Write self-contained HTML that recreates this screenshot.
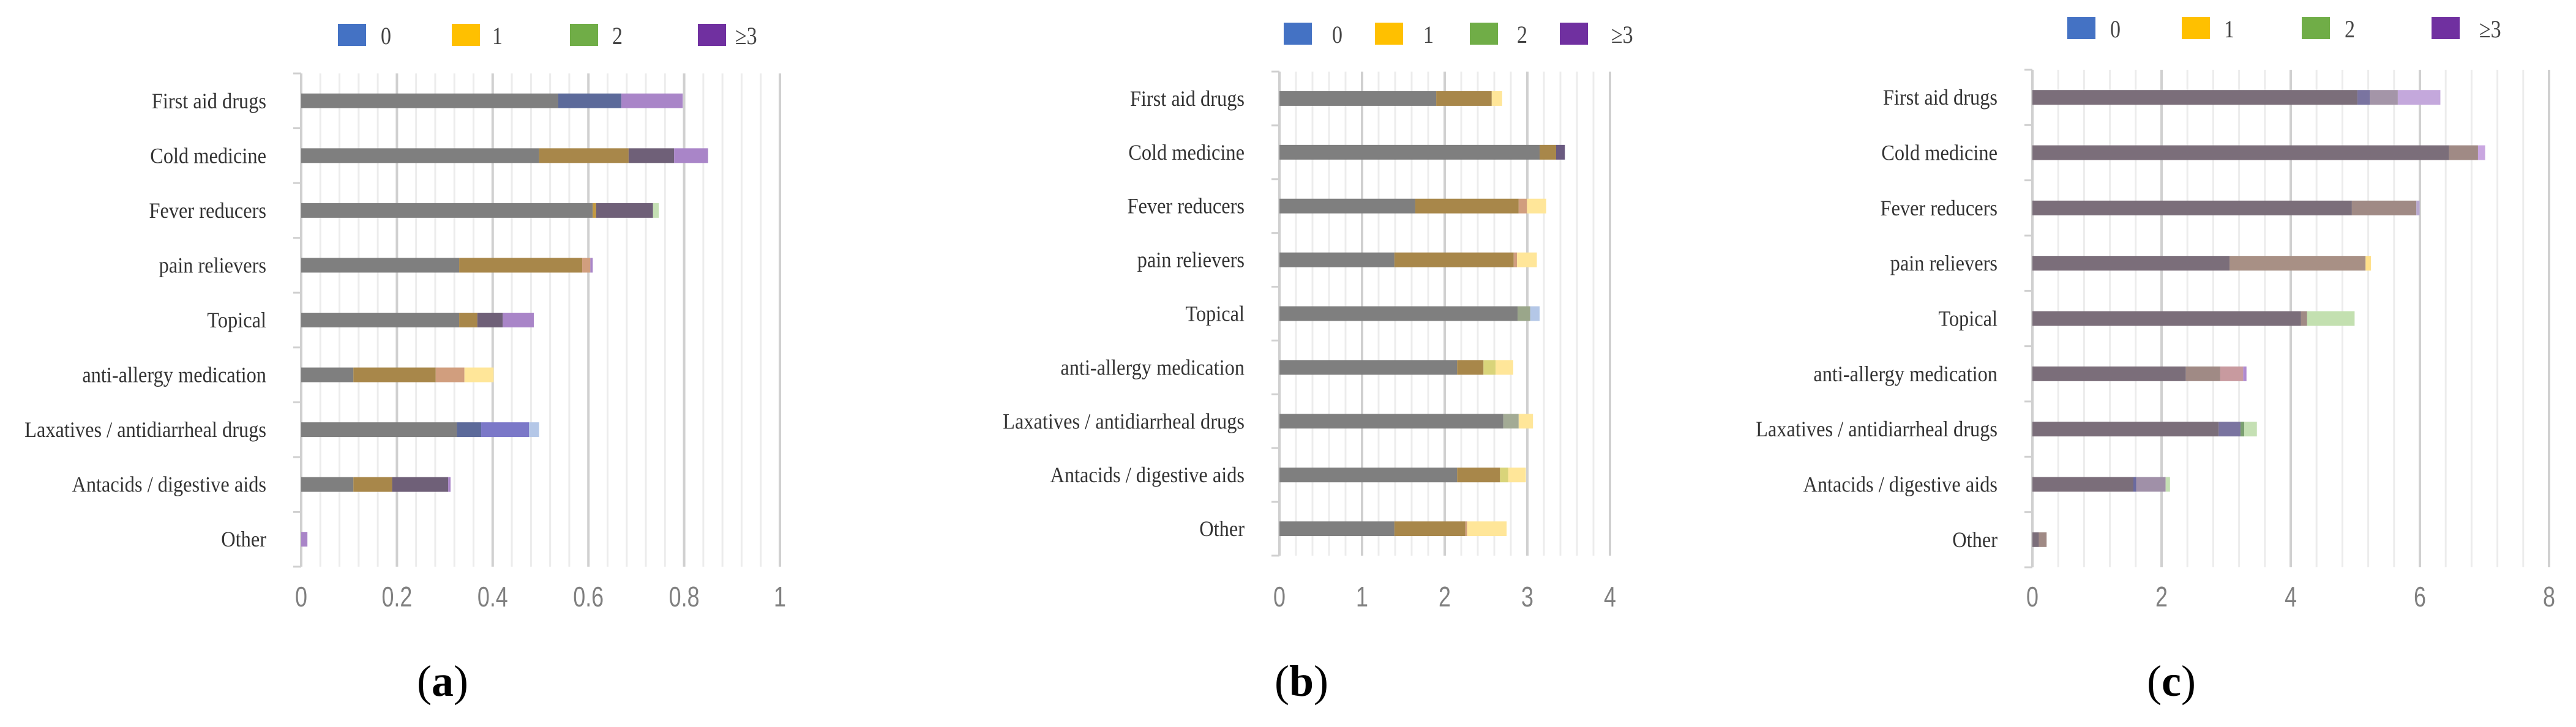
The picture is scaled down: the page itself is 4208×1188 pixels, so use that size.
<!DOCTYPE html>
<html><head><meta charset="utf-8"><style>
html,body{margin:0;padding:0;background:#fff;}
svg{display:block;}
</style></head><body>
<svg id="fig" xmlns="http://www.w3.org/2000/svg" width="4208" height="1188" viewBox="0 0 4208 1188"></svg>
<script>
const categories = ["First aid drugs","Cold medicine","Fever reducers","pain relievers","Topical","anti-allergy medication","Laxatives / antidiarrheal drugs","Antacids / digestive aids","Other"];
const legendLabels = ["0","1","2","≥3"];
const legendColors = ["#4472c4","#ffc000","#70ad47","#7030a0"];

// Panel (a) segment lengths per category
const valuesA = [
  [0.537,0.132,0.128],
  [0.497,0.187,0.095,0.071],
  [0.609,0.007,0.119,0.012],
  [0.330,0.257,0.017,0.005],
  [0.330,0.038,0.053,0.065],
  [0.109,0.172,0.060,0.061],
  [0.325,0.051,0.100,0.021],
  [0.109,0.081,0.117,0.005],
  [0.013]
];
const colorsA = [
  ["#7f7f7f","#5c6a9a","#a985c8"],
  ["#7f7f7f","#a8874a","#6f6078","#a985c8"],
  ["#7f7f7f","#c49a40","#6f6078","#c5e0b4"],
  ["#7f7f7f","#a8874a","#d19e7e","#a985c8"],
  ["#7f7f7f","#a8874a","#6f6078","#a985c8"],
  ["#7f7f7f","#a8874a","#d19e7e","#ffe699"],
  ["#7f7f7f","#5c6a9a","#7b78c8","#b4c7e7"],
  ["#7f7f7f","#a8874a","#6f6078","#a985c8"],
  ["#a985c8"]
];
const ticksA = ["0","0.2","0.4","0.6","0.8","1"];

// Panel (b)
const valuesB = [
  [1.897,0.672,0.126],
  [3.148,0.200,0.106],
  [1.644,1.251,0.100,0.233],
  [1.391,1.444,0.040,0.240],
  [2.882,0.153,0.113],
  [2.150,0.319,0.147,0.213],
  [2.709,0.186,0.173],
  [2.150,0.519,0.100,0.213],
  [1.391,0.859,0.020,0.479]
];
const colorsB = [
  ["#7f7f7f","#a8874a","#ffe699"],
  ["#7f7f7f","#a8874a","#6a5a80"],
  ["#7f7f7f","#a8874a","#d19e7e","#ffe699"],
  ["#7f7f7f","#a8874a","#d19e7e","#ffe699"],
  ["#7f7f7f","#9aa68a","#b4c7e7"],
  ["#7f7f7f","#a8874a","#d9d47a","#ffe699"],
  ["#7f7f7f","#a3ab95","#ffe699"],
  ["#7f7f7f","#a8874a","#d9d47a","#ffe699"],
  ["#7f7f7f","#a8874a","#d19e7e","#ffe699"]
];
const ticksB = ["0","1","2","3","4"];

// Panel (c)
const valuesC = [
  [5.032,0.194,0.432,0.659],
  [6.452,0.448,0.110],
  [4.947,0.998,0.051],
  [3.053,2.106,0.084],
  [4.160,0.094,0.735],
  [2.376,0.533,0.355,0.051],
  [2.884,0.338,0.059,0.195],
  [1.564,0.043,0.456,0.068],
  [0.100,0.120]
];
const colorsC = [
  ["#7b6e7a","#7a74a0","#a495a8","#c4a8dc"],
  ["#7b6e7a","#a08a85","#c9a6e0"],
  ["#7b6e7a","#a08a85","#b8a8d0"],
  ["#7b6e7a","#a89085","#ffe08a"],
  ["#7b6e7a","#a08a85","#c3e0b0"],
  ["#7b6e7a","#a08a85","#c89a9f","#b08ad0"],
  ["#7b6e7a","#7a74a0","#7aa070","#c5e0b4"],
  ["#7b6e7a","#6a6aa0","#a090a8","#c5e0b4"],
  ["#7b6e7a","#a08a85"]
];
const ticksC = ["0","2","4","6","8"];

const NS="http://www.w3.org/2000/svg";
const svg=document.getElementById('fig');
function mk(tag,attrs,parent){const e=document.createElementNS(NS,tag);for(const k in attrs)e.setAttribute(k,attrs[k]);(parent||svg).appendChild(e);return e;}

const panels=[
  {id:'a',values:valuesA,colors:colorsA,ticks:ticksA,max:1,x0:492,x1:1274,top:120,bottom:926,
   sw:[552,738,931,1140],lab:[622,804,1000,1201],legY:39,cap:723},
  {id:'b',values:valuesB,colors:colorsB,ticks:ticksB,max:4,x0:2090,x1:2630,top:117,bottom:908,
   sw:[2097,2246,2401,2548],lab:[2176,2325,2478,2632],legY:37,cap:2126},
  {id:'c',values:valuesC,colors:colorsC,ticks:ticksC,max:8,x0:3320,x1:4164,top:114,bottom:927,
   sw:[3377,3564,3760,3972],lab:[3447,3633,3830,4050],legY:28,cap:3547}
];

panels.forEach(p=>{
  const g=mk('g',{});
  
  
  const xs=v=>p.x0+(p.x1-p.x0)*v/p.max;
  const band=(p.bottom-p.top)/categories.length;
  const yc=i=>p.top+band*(i+0.5);
  const nMaj=p.ticks.length-1;
  for(let k=1;k<=nMaj*5;k++){
    const v=p.max*k/(nMaj*5);
    const major=k%5===0;
    const l=mk('line',{x1:xs(v),x2:xs(v),y1:p.top,y2:p.bottom,stroke:major?'#d0d0d0':'#ececec','stroke-width':major?4:3},g);
    
    
  }
  const ax=mk('line',{x1:p.x0,x2:p.x0,y1:p.top,y2:p.bottom,stroke:'#d0d0d0','stroke-width':4},g);
  
  
  for(let i=0;i<=categories.length;i++){
    const y=p.top+band*i;
    const t=mk('line',{x1:p.x0-13,x2:p.x0,y1:y,y2:y,stroke:'#d0d0d0','stroke-width':3},g);
    
    
  }
  p.ticks.forEach((tl,k)=>{
    const v=p.max*k/nMaj;
    const t=mk('text',{x:0,y:0,transform:'translate('+xs(v)+',991) scale(0.78,1)','text-anchor':'middle','font-family':'Liberation Sans, sans-serif','font-size':46,fill:'#7f7f7f'},g);
    t.textContent=tl;
    
    
  });
  categories.forEach((c,i)=>{
    const t=mk('text',{x:0,y:0,transform:'translate('+(p.x0-57)+','+(yc(i)+12)+') scale(0.9,1)','text-anchor':'end','font-family':'Liberation Serif, serif','font-size':36,fill:'#333'},g);
    t.textContent=c;
    
    
    let acc=0;
    p.values[i].forEach((v,j)=>{
      const r=mk('rect',{x:xs(acc),y:yc(i)-12,width:Math.max(0,xs(acc+v)-xs(acc)),height:24,fill:p.colors[i][j]},g);
      
      
      acc+=v;
    });
  });
  legendLabels.forEach((lb,k)=>{
    const r=mk('rect',{x:p.sw[k],y:p.legY,width:46,height:36,fill:legendColors[k]},g);
    
    
    const t=mk('text',{x:0,y:0,transform:'translate('+p.lab[k]+','+(p.legY+33)+') scale(0.85,1)','font-family':'Liberation Serif, serif','font-size':40,fill:'#444'},g);
    t.textContent=lb;
    
    
  });
  const cap=mk('text',{x:p.cap,y:1137,'text-anchor':'middle','font-family':'Liberation Serif, serif','font-size':72,fill:'#000'},g);
  cap.innerHTML='(<tspan font-weight="bold">'+p.id+'</tspan>)';
  
  
});
</script>
</body></html>
